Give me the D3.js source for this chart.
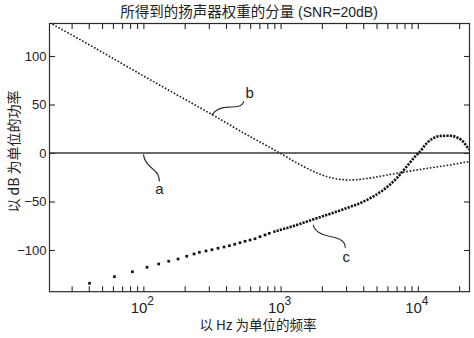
<!DOCTYPE html>
<html><head><meta charset="utf-8">
<script src="https://cdn.jsdelivr.net/npm/d3@7"></script>
<style>html,body{margin:0;padding:0;background:#fff;} svg{display:block;}</style>
</head><body>
<svg id="chart" width="474" height="338"></svg>
<script>
// ---------- data ----------
const titleCJK = "所得到的扬声器权重的分量";
const titleLatin = " (SNR=20dB)";
const xAxisTitle = "以 Hz 为单位的频率";
const yAxisTitle = "以 dB 为单位的功率";

const xDomain = [20.7, 23800];
const yDomain = [-143, 133.5];
const xTickValues = [30,40,50,60,70,80,90,100,200,300,400,500,600,700,800,900,1000,2000,3000,4000,5000,6000,7000,8000,9000,10000,20000];
const xLabelValues = [100, 1000, 10000];
const xLabelBase = ["10", "10", "10"];
const xLabelExp = ["2", "3", "4"];
const yTickValues = [-100, -50, 0, 50, 100];

// curve a: zero line
const aFreq = [20.7, 23800];
const aDb = [0, 0];

// curve b: dotted
const bFreq = [20.7, 30, 50, 100, 200, 300, 598, 794, 1000, 1384, 1832, 2421, 3206, 4237, 5600, 7413, 9790, 12940, 17000, 22640, 23800];
const bDb   = [134.4, 121.8, 104, 79.5, 55.5, 41.5, 17, 7.5, -0.5, -12, -20.5, -26, -27.8, -26.3, -23.5, -20.3, -17.6, -15, -12.4, -9.4, -9];

// curve c: isolated low-frequency points
const cSparseFreq = [40.5, 61.5, 83.2, 106.4, 129.4, 153, 179, 207, 234, 256, 286, 316, 350, 387, 423, 463, 506, 551, 599, 651, 708, 770, 827];
const cSparseDb   = [-134.3, -127.5, -122.4, -117.8, -114.4, -111.6, -109.3, -106.5, -104.1, -102.4, -101, -99.7, -98.2, -96.9, -95.6, -94.1, -92.5, -91, -89.7, -88.4, -86.3, -84.5, -82.8];
// curve c: dense part
const cDenseFreq = [885, 1310, 1832, 2866, 4237, 5600, 7010, 8285, 9530, 10360, 11590, 12950, 14490, 17110, 19170, 21430, 23300, 23800];
const cDenseDb   = [-81.4, -74.2, -67.3, -58, -48.5, -38.1, -26.1, -14.1, -3.8, 1.3, 10, 15.2, 17.5, 17.8, 16.2, 11.6, 4.8, 3.5];

// annotation labels and where their leaders touch the curves (Hz, dB)
const annoText = ["a", "b", "c"];
const annoFreq = [100, 315, 1730];
const annoDb = [-1.5, 39, -74];

// ---------- layout ----------
const L = 49.5, R = 469.5, T = 23.5, B = 291.7;
const svg = d3.select("#chart");
const x = d3.scaleLog().domain(xDomain).range([L, R]);
const y = d3.scaleLinear().domain(yDomain).range([B, T]);
const latin = "'Liberation Sans', Arial, Helvetica, sans-serif";
const cjk = "'Noto Sans CJK SC', 'Noto Sans', sans-serif";
const ink = "#2a2a2a";

svg.append("defs").append("clipPath").attr("id", "clip")
  .append("rect").attr("x", L).attr("y", T).attr("width", R - L).attr("height", B - T);

function styleAxis(g) {
  g.select(".domain").remove();
  g.selectAll(".tick line").attr("stroke", ink).attr("stroke-width", 1.1);
  g.selectAll("text").attr("font-family", latin).attr("font-size", 13).attr("fill", "#222");
}
svg.append("g").attr("transform", `translate(0,${B})`)
  .call(d3.axisBottom(x).tickValues(xTickValues).tickSize(-5.5).tickFormat(""))
  .call(styleAxis);
svg.append("g").attr("transform", `translate(0,${T})`)
  .call(d3.axisTop(x).tickValues(xTickValues).tickSize(-5.5).tickFormat(""))
  .call(styleAxis);
svg.append("g").attr("transform", `translate(${L},0)`)
  .call(d3.axisLeft(y).tickValues(yTickValues).tickSize(-5.5).tickPadding(3).tickFormat(d3.format("d")))
  .call(styleAxis);
svg.append("g").attr("transform", `translate(${R},0)`)
  .call(d3.axisRight(y).tickValues(yTickValues).tickSize(-5.5).tickFormat(""))
  .call(styleAxis);

svg.append("rect").attr("x", L).attr("y", T).attr("width", R - L).attr("height", B - T)
  .attr("fill", "none").attr("stroke", ink).attr("stroke-width", 1.2);

xLabelValues.forEach((v, i) => {
  const t = svg.append("text").attr("x", x(v) - 1).attr("y", 312.5)
    .attr("text-anchor", "middle").attr("font-family", latin).attr("font-size", 15).attr("fill", "#222");
  t.append("tspan").text(xLabelBase[i]);
  t.append("tspan").attr("font-size", 12).attr("dy", -8).text(xLabelExp[i]);
});

const tt = svg.append("text").attr("x", 249).attr("y", 17).attr("text-anchor", "middle")
  .attr("font-size", 14).attr("fill", "#222");
tt.append("tspan").attr("font-family", cjk).attr("font-size", 14.5).text(titleCJK);
tt.append("tspan").attr("font-family", latin).text(titleLatin);

svg.append("text").attr("x", 258).attr("y", 330).attr("text-anchor", "middle")
  .attr("font-family", cjk).attr("font-size", 13.5).attr("fill", "#222").text(xAxisTitle);
svg.append("text").attr("transform", "translate(13,151.5) rotate(-90)")
  .attr("text-anchor", "middle").attr("dominant-baseline", "central")
  .attr("font-family", cjk).attr("font-size", 14).attr("fill", "#222").text(yAxisTitle);

// ---------- curves ----------
const plot = svg.append("g").attr("clip-path", "url(#clip)");
const line = d3.line().x(d => x(d[0])).y(d => y(d[1])).curve(d3.curveMonotoneX);

plot.append("path").attr("d", line(d3.zip(aFreq, aDb)))
  .attr("fill", "none").attr("stroke", "#3a3a3a").attr("stroke-width", 1.3);

plot.append("path").attr("d", line(d3.zip(bFreq, bDb)))
  .attr("fill", "none").attr("stroke", "#1a1a1a").attr("stroke-width", 1.6)
  .attr("stroke-dasharray", "1.6,1.8");

plot.selectAll("rect.cs").data(d3.zip(cSparseFreq, cSparseDb)).join("rect")
  .attr("class", "cs")
  .attr("x", d => x(d[0]) - 1.35).attr("y", d => y(d[1]) - 1.35)
  .attr("width", 2.7).attr("height", 2.7).attr("fill", "#111");

plot.append("path").attr("d", line(d3.zip(cDenseFreq, cDenseDb)))
  .attr("fill", "none").attr("stroke", "#111").attr("stroke-width", 2.6)
  .attr("stroke-dasharray", "2.2,1.2");

// ---------- annotations ----------
const leaders = {
  a: p => `M${p[0]},${p[1]} C${p[0] + 1},${p[1] + 8} ${p[0] + 6},${p[1] + 12} ${p[0] + 10},${p[1] + 15} C${p[0] + 14},${p[1] + 18} ${p[0] + 16},${p[1] + 22} ${p[0] + 16},${p[1] + 27}`,
  b: p => `M${p[0]},${p[1]} C${p[0] + 4},${p[1] - 6} ${p[0] + 10},${p[1] - 8} ${p[0] + 17},${p[1] - 8} C${p[0] + 26},${p[1] - 8} ${p[0] + 31},${p[1] - 9} ${p[0] + 32},${p[1] - 14}`,
  c: p => `M${p[0]},${p[1]} C${p[0] + 1},${p[1] + 7} ${p[0] + 8},${p[1] + 10} ${p[0] + 18},${p[1] + 12} C${p[0] + 28},${p[1] + 14} ${p[0] + 32},${p[1] + 17} ${p[0] + 32},${p[1] + 23}`
};
const labelOffset = { a: [16, 40], b: [38, -17], c: [33, 37] };
annoText.forEach((txt, i) => {
  const p = [x(annoFreq[i]), y(annoDb[i])];
  svg.append("path").attr("d", leaders[txt](p)).attr("fill", "none")
    .attr("stroke", "#333").attr("stroke-width", 1.2);
  svg.append("text").attr("x", p[0] + labelOffset[txt][0]).attr("y", p[1] + labelOffset[txt][1])
    .attr("text-anchor", "middle").attr("font-family", latin).attr("font-size", 15)
    .attr("fill", "#222").text(txt);
});
</script>
</body></html>
